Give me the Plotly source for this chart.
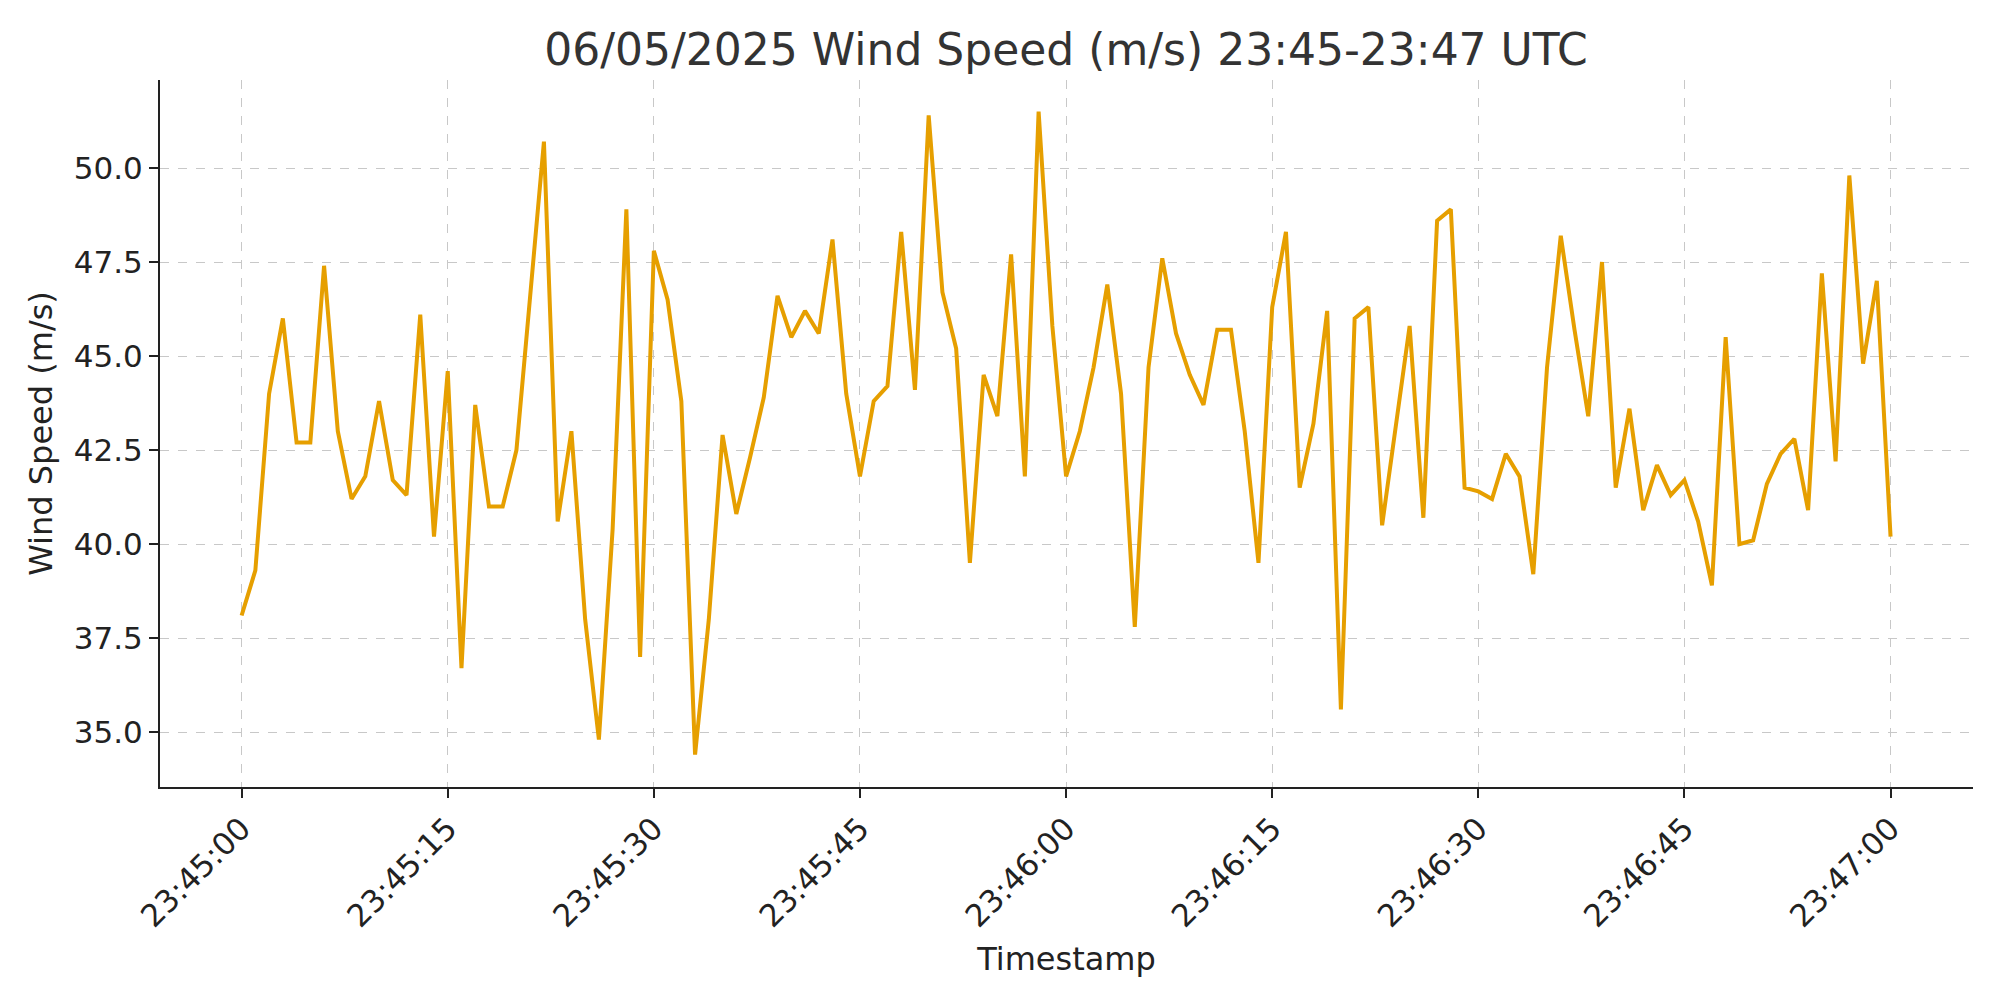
import pandas as pd
import plotly.graph_objects as go

start_time = "2025-06-05 23:45:00"
wind_speed = [
    38.1, 39.3, 44.0, 46.0, 42.7, 42.7, 47.4, 43.0, 41.2, 41.8,
    43.8, 41.7, 41.3, 46.1, 40.2, 44.6, 36.7, 43.7, 41.0, 41.0,
    42.5, 46.6, 50.7, 40.6, 43.0, 38.0, 34.8, 40.4, 48.9, 37.0,
    47.8, 46.5, 43.8, 34.4, 38.0, 42.9, 40.8, 42.3, 43.9, 46.6,
    45.5, 46.2, 45.6, 48.1, 44.0, 41.8, 43.8, 44.2, 48.3, 44.1,
    51.4, 46.7, 45.2, 39.5, 44.5, 43.4, 47.7, 41.8, 51.5, 45.8,
    41.8, 43.0, 44.7, 46.9, 44.0, 37.8, 44.7, 47.6, 45.6, 44.5,
    43.7, 45.7, 45.7, 43.0, 39.5, 46.3, 48.3, 41.5, 43.2, 46.2,
    35.6, 46.0, 46.3, 40.5, 43.1, 45.8, 40.7, 48.6, 48.9, 41.5,
    41.4, 41.2, 42.4, 41.8, 39.2, 44.7, 48.2, 45.7, 43.4, 47.5,
    41.5, 43.6, 40.9, 42.1, 41.3, 41.7, 40.6, 38.9, 45.5, 40.0,
    40.1, 41.6, 42.4, 42.8, 40.9, 47.2, 42.2, 49.8, 44.8, 47.0,
    40.2,
]
timestamps = pd.date_range(start_time, periods=len(wind_speed), freq="1s")
tick_vals = pd.date_range(start_time, periods=9, freq="15s")
tick_text = [t.strftime("%H:%M:%S") for t in tick_vals]
y_ticks = [35.0, 37.5, 40.0, 42.5, 45.0, 47.5, 50.0]

fig = go.Figure(go.Scatter(x=timestamps, y=wind_speed, mode="lines",
                           line=dict(color="#E69F00", width=4)))

x0 = pd.Timestamp(start_time)
fig.update_layout(
    width=2000, height=1000,
    paper_bgcolor="white", plot_bgcolor="white",
    font=dict(family="DejaVu Sans", color="#222222"),
    margin=dict(l=152, r=35, t=72, b=221),
    title=dict(text="06/05/2025 Wind Speed (m/s) 23:45-23:47 UTC", x=0.529, xanchor="center",
               y=0.958, yanchor="middle", font=dict(size=44, color="#333333")),
    showlegend=False,
)
fig.update_xaxes(
    range=[x0 - pd.Timedelta(seconds=5.94), x0 + pd.Timedelta(seconds=126)],
    tickvals=tick_vals, ticktext=tick_text, tickangle=-45,
    tickfont=dict(size=31), ticks="outside", ticklen=9, tickwidth=2, tickcolor="#222",
    showline=True, linecolor="#222", linewidth=2,
    showgrid=True, gridcolor="#c8c8c8", griddash="dash", gridwidth=1.3,
    title=dict(text="Timestamp", font=dict(size=32)), zeroline=False,
)
fig.update_yaxes(
    range=[33.54, 52.34], tickvals=y_ticks, ticktext=[f"{v:.1f}" for v in y_ticks],
    tickfont=dict(size=31), ticks="outside", ticklen=9, tickwidth=2, tickcolor="#222",
    showline=True, linecolor="#222", linewidth=2,
    showgrid=True, gridcolor="#c8c8c8", griddash="dash", gridwidth=1.3,
    title=dict(text="Wind Speed (m/s)", font=dict(size=32), standoff=12), zeroline=False,
)
fig.write_html("out.html")
